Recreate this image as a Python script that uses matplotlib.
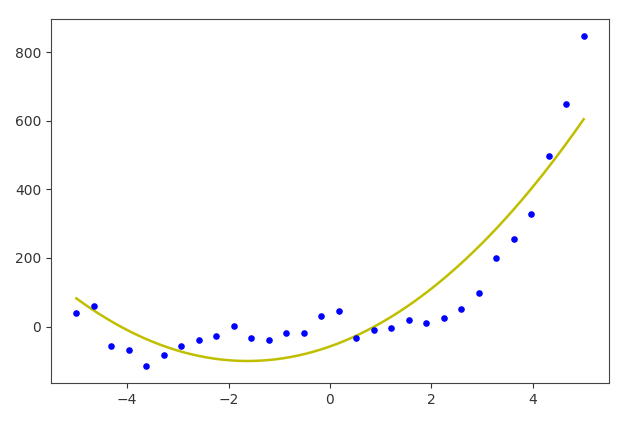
import matplotlib
matplotlib.use("Agg")
import matplotlib.pyplot as plt
import numpy as np

# sample points
x_vals = np.linspace(-5, 5, 30)
y_vals = [40, 59, -57, -67, -116, -82, -57, -38, -28, 1,
          -33, -38, -18, -18, 30, 45, -33, -9, -4, 20,
          11, 25, 50, 98, 200, 254, 327, 497, 648, 848]

# quadratic fit through the points
coef = np.polyfit(x_vals, y_vals, 2)
x_line = np.linspace(-5, 5, 200)
y_line = np.polyval(coef, x_line)

fig = plt.figure(figsize=(6.31, 4.24), dpi=100)
ax = fig.add_axes([51 / 631, 41 / 424, 558 / 631, 364 / 424])

ax.scatter(x_vals, y_vals, s=14, color='b', zorder=2)
ax.plot(x_line, y_line, color='y', linewidth=1.8, zorder=1)

for sp in ax.spines.values():
    sp.set_color('#444444')
ax.tick_params(colors='#333333')

fig.savefig("out.png", dpi=100)
